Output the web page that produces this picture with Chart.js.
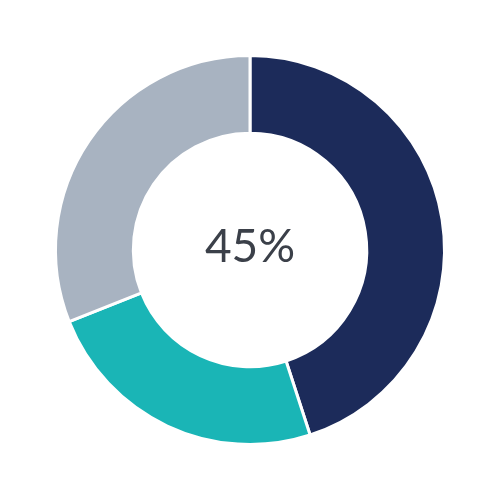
<!DOCTYPE html>
<html lang="en">
<head>
    <meta charset="UTF-8">
    <title>Doughnut</title>
    <style>
        body { margin: 0; background: #fff; }
        .chart-container { width: 500px; height: 500px; }
    </style>
</head>
<body>
    <div class="chart-container">
        <canvas id="donut"></canvas>
    </div>
    <script src="https://cdn.jsdelivr.net/npm/chart.js"></script>
    <script>
        const labels = ['A', 'B', 'C'];
        const values = [45, 24, 31];
        const colors = ['#1c2b5a', '#1ab5b6', '#a8b3c1'];
        const centerLabel = '45%';

        const centerText = {
            id: 'centerText',
            afterDraw(chart) {
                const ctx = chart.ctx;
                const meta = chart.getDatasetMeta(0).data[0];
                ctx.save();
                ctx.font = '46px Lato';
                ctx.fillStyle = '#3b4049';
                ctx.textAlign = 'center';
                ctx.textBaseline = 'middle';
                ctx.fillText(centerLabel, meta.x, meta.y - 3);
                ctx.restore();
            }
        };

        new Chart(document.getElementById('donut'), {
            type: 'doughnut',
            data: {
                labels: labels,
                datasets: [{
                    data: values,
                    backgroundColor: colors,
                    borderColor: '#ffffff',
                    borderWidth: 3
                }]
            },
            options: {
                responsive: true,
                maintainAspectRatio: false,
                animation: false,
                cutout: '60%',
                layout: { padding: 54 },
                plugins: {
                    legend: { display: false },
                    tooltip: { enabled: false }
                }
            },
            plugins: [centerText]
        });
    </script>
</body>
</html>
